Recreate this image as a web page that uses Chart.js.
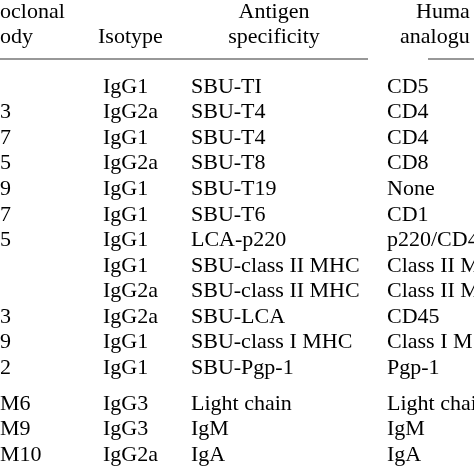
<!DOCTYPE html>
<html>
<head>
<meta charset="utf-8">
<script src="https://cdn.jsdelivr.net/npm/chart.js@4"></script>
<style>
  body { margin: 0; background: #fff; overflow: hidden; font-family: "Liberation Serif", serif; }
  .warm { position: absolute; left: -999px; font-family: "Liberation Serif"; }
</style>
</head>
<body>
<span class="warm">IgG1</span>
<canvas id="tbl" width="474" height="474"></canvas>
<script>
// table contents, one array per column
const headers1 = ['oclonal', '', 'Antigen', 'Huma'];
const headers2 = ['ody', 'Isotype', 'specificity', 'analogu'];
const antibody = ['', '3', '7', '5', '9', '7', '5', '', '', '3', '9', '2', 'M6', 'M9', 'M10'];
const isotype = ['IgG1', 'IgG2a', 'IgG1', 'IgG2a', 'IgG1', 'IgG1', 'IgG1', 'IgG1', 'IgG2a', 'IgG2a', 'IgG1', 'IgG1', 'IgG3', 'IgG3', 'IgG2a'];
const antigen = ['SBU-TI', 'SBU-T4', 'SBU-T4', 'SBU-T8', 'SBU-T19', 'SBU-T6', 'LCA-p220', 'SBU-class II MHC', 'SBU-class II MHC', 'SBU-LCA', 'SBU-class I MHC', 'SBU-Pgp-1', 'Light chain', 'IgM', 'IgA'];
const human = ['CD5', 'CD4', 'CD4', 'CD8', 'None', 'CD1', 'p220/CD4', 'Class II M', 'Class II M', 'CD45', 'Class I M', 'Pgp-1', 'Light chai', 'IgM', 'IgA'];
const rowPos = [0, 1, 2, 3, 4, 5, 6, 7, 8, 9, 10, 11, 12.4, 13.4, 14.4];

const colX = [0, 103, 191, 387];
const font = '22px "Liberation Serif"';

const tablePlugin = {
  id: 'tableText',
  afterDatasetsDraw(chart) {
    const ctx = chart.ctx;
    const y = chart.scales.y;
    ctx.save();
    ctx.font = font;
    ctx.fillStyle = '#000';
    ctx.textBaseline = 'middle';
    // headers
    ctx.textAlign = 'left';
    ctx.fillText(headers1[0], 0, 12);
    ctx.fillText(headers2[0], 0, 37);
    ctx.fillText(headers2[1], 98, 37);
    ctx.textAlign = 'center';
    ctx.fillText(headers1[2], 274, 12);
    ctx.fillText(headers2[2], 274, 37);
    ctx.textAlign = 'left';
    ctx.fillText(headers1[3], 416, 12);
    ctx.fillText(headers2[3], 400, 37);
    // rule under header
    ctx.strokeStyle = '#333';
    ctx.lineWidth = 1.2;
    ctx.beginPath();
    ctx.moveTo(0, 59); ctx.lineTo(368, 59);
    ctx.moveTo(428, 59); ctx.lineTo(474, 59);
    ctx.stroke();
    // body rows
    const cols = [antibody, isotype, antigen, human];
    rowPos.forEach((r, i) => {
      const py = y.getPixelForValue(r);
      cols.forEach((c, j) => ctx.fillText(c[i], colX[j], py));
    });
    ctx.restore();
  }
};

const perRow = 25.55;
const yMin = -87 / perRow;

function draw() {
  new Chart(document.getElementById('tbl'), {
    type: 'scatter',
    data: {
      datasets: [{
        data: rowPos.map(r => ({ x: 0, y: r })),
        pointRadius: 0
      }]
    },
    options: {
      responsive: false,
      animation: false,
      layout: { padding: 0 },
      plugins: { legend: { display: false }, tooltip: { enabled: false } },
      scales: {
        x: { display: false, min: 0, max: 474 },
        y: { display: false, reverse: true, min: yMin, max: yMin + 474 / perRow }
      }
    },
    plugins: [tablePlugin]
  });
}

document.fonts.load(font).then(draw, draw);
</script>
</body>
</html>
